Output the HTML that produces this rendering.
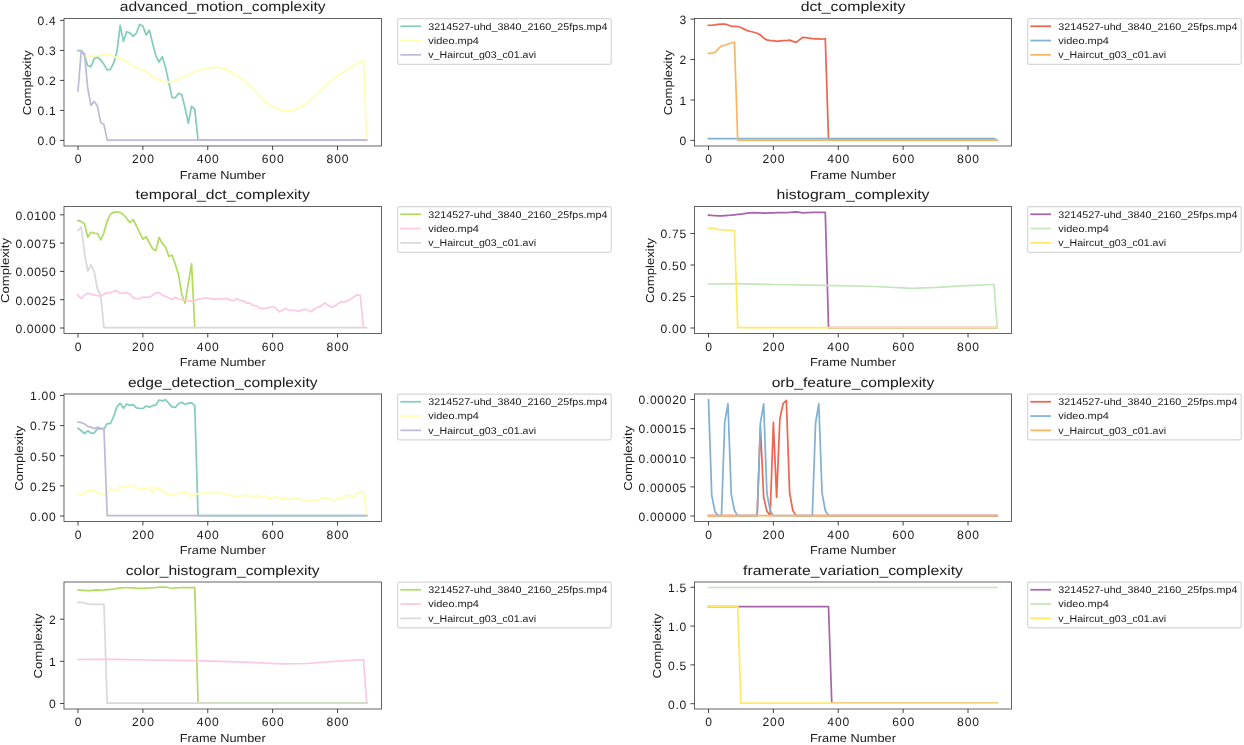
<!DOCTYPE html><html><head><meta charset="utf-8"><style>html,body{margin:0;padding:0;background:#fff;width:1244px;height:745px;overflow:hidden}svg{display:block;will-change:transform}text{font-family:"Liberation Sans",sans-serif;fill:#1a1a1a;text-rendering:geometricPrecision}</style></head><body>
<svg width="1244" height="745" viewBox="0 0 1244 745">
<rect width="1244" height="745" fill="#fff"/>
<g><clipPath id="c0"><rect x="64" y="18.5" width="317.5" height="127.5"/></clipPath><g clip-path="url(#c0)" fill="none" stroke-width="1.73" stroke-linejoin="round" stroke-linecap="square"><polyline stroke="#84cdbc" points="78,50.53 81.24,50.53 84.49,55.41 87.73,65.75 90.98,66.69 94.22,58.7 97.46,57.11 100.71,60.11 103.95,64.34 107.2,69.98 110.44,69.32 113.68,62.93 116.93,51.65 120.17,25.34 123.42,41.32 126.66,31.73 129.9,32.86 133.15,36.43 136.39,33.05 139.64,24.4 142.88,26.09 146.12,34.92 149.37,30.23 152.61,43.2 155.86,55.88 159.1,61.99 162.34,56.82 165.59,67.63 168.83,82.67 172.08,97.67 175.32,97.67 178.56,93.33 181.81,94.82 185.05,107.95 188.3,123.36 191.54,106.23 194.78,109.32 198.03,140.2 366.72,140.2"/><polyline stroke="#ffffb3" points="78,58.42 81.24,57.29 84.49,56.82 87.73,56.64 90.98,56.35 94.22,56.07 97.46,55.6 100.71,55.23 103.95,54.94 107.2,54.76 110.44,54.47 113.68,56.35 116.93,57.76 120.17,58.7 123.42,60.11 126.66,61.99 129.9,63.87 133.15,65.75 136.39,67.63 139.64,69.04 142.88,69.98 146.12,72.33 149.37,74.21 152.61,77.03 155.86,78.91 159.1,79.85 162.34,80.79 165.59,81.73 168.83,82.2 172.08,81.7 178.24,79.4 185.05,76 191.54,73.1 198.03,70.5 204.52,68.6 211.65,67.4 218.47,67.4 223.98,68.6 229.82,71.4 236.63,75.4 239.88,77.6 248.31,83.7 256.74,92.9 265.18,102 273.94,107.4 282.37,110.5 289.18,110.8 296.32,109.4 304.76,104.1 313.19,98.5 320.98,90 330.06,81.6 338.82,75.2 347.25,69.6 355.69,65.1 363.47,60.4 366.72,140.2"/><polyline stroke="#bebada" points="78,90.88 81.24,51.02 84.49,53.73 87.73,88.23 90.98,105.4 94.22,101.39 97.46,106.3 100.71,122.6 103.95,124.41 107.2,140.2 366.72,140.2"/></g><rect x="64" y="18.5" width="317.5" height="127.5" fill="none" stroke="#555" stroke-width="0.92" stroke-linecap="square"/><text x="78" y="163" font-size="12.1" text-anchor="middle" textLength="7.33" lengthAdjust="spacing">0</text><text x="142.88" y="163" font-size="12.1" text-anchor="middle" textLength="21.99" lengthAdjust="spacing">200</text><text x="207.76" y="163" font-size="12.1" text-anchor="middle" textLength="21.99" lengthAdjust="spacing">400</text><text x="272.64" y="163" font-size="12.1" text-anchor="middle" textLength="21.99" lengthAdjust="spacing">600</text><text x="337.52" y="163" font-size="12.1" text-anchor="middle" textLength="21.99" lengthAdjust="spacing">800</text><text x="55.74" y="145.2" font-size="12.1" text-anchor="end" textLength="18.32" lengthAdjust="spacing">0.0</text><text x="55.74" y="115.2" font-size="12.1" text-anchor="end" textLength="18.32" lengthAdjust="spacing">0.1</text><text x="55.74" y="85.2" font-size="12.1" text-anchor="end" textLength="18.32" lengthAdjust="spacing">0.2</text><text x="55.74" y="55.2" font-size="12.1" text-anchor="end" textLength="18.32" lengthAdjust="spacing">0.3</text><text x="55.74" y="25.2" font-size="12.1" text-anchor="end" textLength="18.32" lengthAdjust="spacing">0.4</text><path d="M78 146v4.03M142.88 146v4.03M207.76 146v4.03M272.64 146v4.03M337.52 146v4.03M64 140.4h-4.03M64 110.4h-4.03M64 80.4h-4.03M64 50.4h-4.03M64 20.4h-4.03" stroke="#333" stroke-width="0.92"/><text x="222.75" y="11.2" font-size="13.54" text-anchor="middle" textLength="205.74" lengthAdjust="spacingAndGlyphs">advanced_motion_complexity</text><text x="222.75" y="178.8" font-size="11.52" text-anchor="middle" textLength="85.83" lengthAdjust="spacingAndGlyphs">Frame Number</text><text x="30.67" y="82.75" font-size="11.52" text-anchor="middle" textLength="65.06" lengthAdjust="spacingAndGlyphs" transform="rotate(-90 30.67 82.75)">Complexity</text><rect x="397.62" y="18.6" width="213.6" height="45.7" rx="1.9" fill="#fff" fill-opacity="0.8" stroke="#cccccc" stroke-opacity="0.8" stroke-width="1.15"/><path d="M401.22 26.25h18.9" stroke="#84cdbc" stroke-width="1.73" stroke-linecap="square"/><text x="428.34" y="29.6" font-size="9.79" text-anchor="start" textLength="179.04" lengthAdjust="spacingAndGlyphs">3214527-uhd_3840_2160_25fps.mp4</text><path d="M401.22 40.55h18.9" stroke="#ffffb3" stroke-width="1.73" stroke-linecap="square"/><text x="428.34" y="43.9" font-size="9.79" text-anchor="start" textLength="50.66" lengthAdjust="spacingAndGlyphs">video.mp4</text><path d="M401.22 54.85h18.9" stroke="#bebada" stroke-width="1.73" stroke-linecap="square"/><text x="428.34" y="58.2" font-size="9.79" text-anchor="start" textLength="107.8" lengthAdjust="spacingAndGlyphs">v_Haircut_g03_c01.avi</text></g>
<g><clipPath id="c1"><rect x="694.5" y="18.5" width="317" height="127.5"/></clipPath><g clip-path="url(#c1)" fill="none" stroke-width="1.73" stroke-linejoin="round" stroke-linecap="square"><polyline stroke="#ec6650" points="708.5,25.24 711.74,25.14 714.99,24.82 718.23,24.41 721.48,24.09 724.72,24.2 727.96,24.93 731.21,26.29 734.45,26.29 737.7,26.5 740.94,27.54 744.18,29.11 747.43,30.68 750.67,31.51 753.92,32.24 757.16,33.29 760.4,34.86 763.65,38.2 766.89,39.87 770.14,40.6 773.38,40.71 776.62,41.33 779.87,40.92 783.11,40.6 786.36,40.5 789.6,40.08 792.84,41.33 796.09,42.38 799.33,39.87 802.58,37.47 805.82,37.68 809.06,38.2 812.31,38.62 815.55,38.83 818.8,38.93 822.04,39.24 825.28,38.51 828.53,140.2 997.22,140.2"/><polyline stroke="#80b1d3" points="708.5,138.6 805.82,138.7 903.14,138.7 993.97,138.6 997.22,140.2"/><polyline stroke="#fdb462" points="708.5,53.46 711.74,53.46 714.99,52.41 718.23,48.96 721.48,45.83 724.72,45.31 727.96,44.05 731.21,43.01 734.45,42.17 737.7,140.2 997.22,140.2"/></g><rect x="694.5" y="18.5" width="317" height="127.5" fill="none" stroke="#555" stroke-width="0.92" stroke-linecap="square"/><text x="708.5" y="163" font-size="12.1" text-anchor="middle" textLength="7.33" lengthAdjust="spacing">0</text><text x="773.38" y="163" font-size="12.1" text-anchor="middle" textLength="21.99" lengthAdjust="spacing">200</text><text x="838.26" y="163" font-size="12.1" text-anchor="middle" textLength="21.99" lengthAdjust="spacing">400</text><text x="903.14" y="163" font-size="12.1" text-anchor="middle" textLength="21.99" lengthAdjust="spacing">600</text><text x="968.02" y="163" font-size="12.1" text-anchor="middle" textLength="21.99" lengthAdjust="spacing">800</text><text x="686.24" y="145.2" font-size="12.1" text-anchor="end" textLength="7.33" lengthAdjust="spacing">0</text><text x="686.24" y="104.77" font-size="12.1" text-anchor="end" textLength="7.33" lengthAdjust="spacing">1</text><text x="686.24" y="64.34" font-size="12.1" text-anchor="end" textLength="7.33" lengthAdjust="spacing">2</text><text x="686.24" y="23.91" font-size="12.1" text-anchor="end" textLength="7.33" lengthAdjust="spacing">3</text><path d="M708.5 146v4.03M773.38 146v4.03M838.26 146v4.03M903.14 146v4.03M968.02 146v4.03M694.5 140.4h-4.03M694.5 99.97h-4.03M694.5 59.54h-4.03M694.5 19.11h-4.03" stroke="#333" stroke-width="0.92"/><text x="853" y="11.2" font-size="13.54" text-anchor="middle" textLength="104.7" lengthAdjust="spacingAndGlyphs">dct_complexity</text><text x="853" y="178.8" font-size="11.52" text-anchor="middle" textLength="85.83" lengthAdjust="spacingAndGlyphs">Frame Number</text><text x="672.16" y="82.75" font-size="11.52" text-anchor="middle" textLength="65.06" lengthAdjust="spacingAndGlyphs" transform="rotate(-90 672.16 82.75)">Complexity</text><rect x="1027.62" y="18.6" width="213.6" height="45.7" rx="1.9" fill="#fff" fill-opacity="0.8" stroke="#cccccc" stroke-opacity="0.8" stroke-width="1.15"/><path d="M1031.21 26.25h18.9" stroke="#ec6650" stroke-width="1.73" stroke-linecap="square"/><text x="1058.34" y="29.6" font-size="9.79" text-anchor="start" textLength="179.04" lengthAdjust="spacingAndGlyphs">3214527-uhd_3840_2160_25fps.mp4</text><path d="M1031.21 40.55h18.9" stroke="#80b1d3" stroke-width="1.73" stroke-linecap="square"/><text x="1058.34" y="43.9" font-size="9.79" text-anchor="start" textLength="50.66" lengthAdjust="spacingAndGlyphs">video.mp4</text><path d="M1031.21 54.85h18.9" stroke="#fdb462" stroke-width="1.73" stroke-linecap="square"/><text x="1058.34" y="58.2" font-size="9.79" text-anchor="start" textLength="107.8" lengthAdjust="spacingAndGlyphs">v_Haircut_g03_c01.avi</text></g>
<g><clipPath id="c2"><rect x="64" y="206.5" width="317.5" height="127"/></clipPath><g clip-path="url(#c2)" fill="none" stroke-width="1.73" stroke-linejoin="round" stroke-linecap="square"><polyline stroke="#b0dc60" points="78,220.54 81.24,221.38 84.49,223.68 87.73,237.26 90.98,232.24 94.22,233.08 97.46,233.6 100.71,239.87 103.95,232.56 107.2,221.06 110.44,214.27 113.68,212.18 116.93,212.18 120.17,212.39 123.42,214.79 126.66,218.45 129.9,222.63 133.15,219.5 136.39,225.77 139.64,232.56 142.88,239.14 146.12,236.74 149.37,243.01 152.61,248.76 155.86,250.64 159.1,237.47 162.34,243.53 165.59,247.19 168.83,256.28 172.08,255.23 175.32,264.43 178.56,274.88 181.81,294.5 185.05,303.1 188.3,283.4 191.54,263.7 194.78,327.7"/><polyline stroke="#fcc8e2" points="78,295.18 81.24,298.65 84.49,295.18 87.73,293.12 90.98,294.15 94.22,294.79 97.46,295.69 100.71,296.08 103.95,294.15 107.2,292.6 110.44,292.86 113.68,291.32 116.93,290.93 120.17,293.5 123.42,292.86 126.66,292.48 129.9,294.15 133.15,297.75 136.39,298.65 139.64,298.65 142.88,296.98 146.12,297.36 149.37,297.36 152.61,295.18 155.86,292.86 159.1,292.6 162.34,295.18 165.59,296.46 168.83,298.01 172.08,299.29 175.32,297.36 178.56,299.04 181.81,299.94 185.05,299.68 188.3,300.58 191.54,301.22 194.78,300.58 198.03,299.29 201.27,298.65 204.52,298.01 207.76,298.26 211,298.65 214.25,299.29 217.49,298.65 220.74,299.23 223.98,298.83 227.22,298.3 230.47,300.16 233.71,300.56 236.96,298.83 240.2,300.56 243.44,300.96 246.69,303.21 249.93,303.21 253.18,305.47 256.42,305.86 259.66,308.12 262.91,308.52 266.15,308.12 269.4,307.85 272.64,306.53 275.88,308.12 279.13,311.83 282.37,310.24 285.62,308.52 288.86,310.24 292.1,310.24 295.35,310.51 298.59,311.17 301.84,309.84 305.08,309.18 308.32,310.51 311.57,311.57 314.81,308.52 318.06,307.19 321.3,305.86 324.54,302.81 327.79,304.94 331.03,307.19 334.28,306.53 337.52,303.87 340.76,301.89 344.01,301.89 347.25,301.22 350.5,299.23 353.74,296.98 356.98,294.86 360.23,295.25 363.47,327.7"/><polyline stroke="#d9d9d9" points="78,230.6 81.24,227 84.49,253 87.73,271 90.98,265 94.22,272 97.46,289 100.71,295.5 103.95,327.7 366.72,327.7"/></g><rect x="64" y="206.5" width="317.5" height="127" fill="none" stroke="#555" stroke-width="0.92" stroke-linecap="square"/><text x="78" y="350.5" font-size="12.1" text-anchor="middle" textLength="7.33" lengthAdjust="spacing">0</text><text x="142.88" y="350.5" font-size="12.1" text-anchor="middle" textLength="21.99" lengthAdjust="spacing">200</text><text x="207.76" y="350.5" font-size="12.1" text-anchor="middle" textLength="21.99" lengthAdjust="spacing">400</text><text x="272.64" y="350.5" font-size="12.1" text-anchor="middle" textLength="21.99" lengthAdjust="spacing">600</text><text x="337.52" y="350.5" font-size="12.1" text-anchor="middle" textLength="21.99" lengthAdjust="spacing">800</text><text x="55.74" y="332.8" font-size="12.1" text-anchor="end" textLength="40.31" lengthAdjust="spacing">0.0000</text><text x="55.74" y="304.5" font-size="12.1" text-anchor="end" textLength="40.31" lengthAdjust="spacing">0.0025</text><text x="55.74" y="276.2" font-size="12.1" text-anchor="end" textLength="40.31" lengthAdjust="spacing">0.0050</text><text x="55.74" y="247.9" font-size="12.1" text-anchor="end" textLength="40.31" lengthAdjust="spacing">0.0075</text><text x="55.74" y="219.6" font-size="12.1" text-anchor="end" textLength="40.31" lengthAdjust="spacing">0.0100</text><path d="M78 333.5v4.03M142.88 333.5v4.03M207.76 333.5v4.03M272.64 333.5v4.03M337.52 333.5v4.03M64 328h-4.03M64 299.7h-4.03M64 271.4h-4.03M64 243.1h-4.03M64 214.8h-4.03" stroke="#333" stroke-width="0.92"/><text x="222.75" y="199.2" font-size="13.54" text-anchor="middle" textLength="174.22" lengthAdjust="spacingAndGlyphs">temporal_dct_complexity</text><text x="222.75" y="366.3" font-size="11.52" text-anchor="middle" textLength="85.83" lengthAdjust="spacingAndGlyphs">Frame Number</text><text x="8.68" y="270.5" font-size="11.52" text-anchor="middle" textLength="65.06" lengthAdjust="spacingAndGlyphs" transform="rotate(-90 8.68 270.5)">Complexity</text><rect x="397.62" y="206.6" width="213.6" height="45.7" rx="1.9" fill="#fff" fill-opacity="0.8" stroke="#cccccc" stroke-opacity="0.8" stroke-width="1.15"/><path d="M401.22 214.25h18.9" stroke="#b0dc60" stroke-width="1.73" stroke-linecap="square"/><text x="428.34" y="217.6" font-size="9.79" text-anchor="start" textLength="179.04" lengthAdjust="spacingAndGlyphs">3214527-uhd_3840_2160_25fps.mp4</text><path d="M401.22 228.55h18.9" stroke="#fcc8e2" stroke-width="1.73" stroke-linecap="square"/><text x="428.34" y="231.9" font-size="9.79" text-anchor="start" textLength="50.66" lengthAdjust="spacingAndGlyphs">video.mp4</text><path d="M401.22 242.85h18.9" stroke="#d9d9d9" stroke-width="1.73" stroke-linecap="square"/><text x="428.34" y="246.2" font-size="9.79" text-anchor="start" textLength="107.8" lengthAdjust="spacingAndGlyphs">v_Haircut_g03_c01.avi</text></g>
<g><clipPath id="c3"><rect x="694.5" y="206.5" width="317" height="127"/></clipPath><g clip-path="url(#c3)" fill="none" stroke-width="1.73" stroke-linejoin="round" stroke-linecap="square"><polyline stroke="#a864ab" points="708.5,215.13 711.74,215.47 714.99,215.69 718.23,215.92 721.48,215.8 724.72,215.58 727.96,215.35 731.21,215.13 734.45,214.79 737.7,214.45 740.94,214.23 744.18,213.67 747.43,213.1 750.67,212.77 753.92,212.65 757.16,212.77 760.4,212.88 763.65,213.1 766.89,213.1 770.14,212.88 773.38,212.77 776.62,212.65 779.87,212.54 783.11,212.54 786.36,212.65 789.6,212.43 792.84,212.09 796.09,211.98 799.33,212.43 802.58,212.88 805.82,212.65 809.06,212.54 812.31,212.43 815.55,212.43 818.8,212.32 822.04,212.32 825.28,212.32 828.53,327.7 997.22,327.7"/><polyline stroke="#c3e6ba" points="708.5,284 737.05,283.7 774.68,284.5 824.64,285.3 874.27,286.5 912.87,288.3 936.88,287.4 961.53,285.8 992.67,284.5 993.97,284.5 997.22,327.7"/><polyline stroke="#ffe968" points="708.5,228.3 711.74,228.3 714.99,228.41 718.23,229.53 721.48,229.76 724.72,229.98 727.96,230.32 731.21,230.43 734.45,230.66 737.7,327.7 997.22,327.7"/></g><rect x="694.5" y="206.5" width="317" height="127" fill="none" stroke="#555" stroke-width="0.92" stroke-linecap="square"/><text x="708.5" y="350.5" font-size="12.1" text-anchor="middle" textLength="7.33" lengthAdjust="spacing">0</text><text x="773.38" y="350.5" font-size="12.1" text-anchor="middle" textLength="21.99" lengthAdjust="spacing">200</text><text x="838.26" y="350.5" font-size="12.1" text-anchor="middle" textLength="21.99" lengthAdjust="spacing">400</text><text x="903.14" y="350.5" font-size="12.1" text-anchor="middle" textLength="21.99" lengthAdjust="spacing">600</text><text x="968.02" y="350.5" font-size="12.1" text-anchor="middle" textLength="21.99" lengthAdjust="spacing">800</text><text x="686.24" y="332.8" font-size="12.1" text-anchor="end" textLength="25.65" lengthAdjust="spacing">0.00</text><text x="686.24" y="301.3" font-size="12.1" text-anchor="end" textLength="25.65" lengthAdjust="spacing">0.25</text><text x="686.24" y="269.8" font-size="12.1" text-anchor="end" textLength="25.65" lengthAdjust="spacing">0.50</text><text x="686.24" y="238.3" font-size="12.1" text-anchor="end" textLength="25.65" lengthAdjust="spacing">0.75</text><path d="M708.5 333.5v4.03M773.38 333.5v4.03M838.26 333.5v4.03M903.14 333.5v4.03M968.02 333.5v4.03M694.5 328h-4.03M694.5 296.5h-4.03M694.5 265h-4.03M694.5 233.5h-4.03" stroke="#333" stroke-width="0.92"/><text x="853" y="199.2" font-size="13.54" text-anchor="middle" textLength="152.97" lengthAdjust="spacingAndGlyphs">histogram_complexity</text><text x="853" y="366.3" font-size="11.52" text-anchor="middle" textLength="85.83" lengthAdjust="spacingAndGlyphs">Frame Number</text><text x="653.84" y="270.5" font-size="11.52" text-anchor="middle" textLength="65.06" lengthAdjust="spacingAndGlyphs" transform="rotate(-90 653.84 270.5)">Complexity</text><rect x="1027.62" y="206.6" width="213.6" height="45.7" rx="1.9" fill="#fff" fill-opacity="0.8" stroke="#cccccc" stroke-opacity="0.8" stroke-width="1.15"/><path d="M1031.21 214.25h18.9" stroke="#a864ab" stroke-width="1.73" stroke-linecap="square"/><text x="1058.34" y="217.6" font-size="9.79" text-anchor="start" textLength="179.04" lengthAdjust="spacingAndGlyphs">3214527-uhd_3840_2160_25fps.mp4</text><path d="M1031.21 228.55h18.9" stroke="#c3e6ba" stroke-width="1.73" stroke-linecap="square"/><text x="1058.34" y="231.9" font-size="9.79" text-anchor="start" textLength="50.66" lengthAdjust="spacingAndGlyphs">video.mp4</text><path d="M1031.21 242.85h18.9" stroke="#ffe968" stroke-width="1.73" stroke-linecap="square"/><text x="1058.34" y="246.2" font-size="9.79" text-anchor="start" textLength="107.8" lengthAdjust="spacingAndGlyphs">v_Haircut_g03_c01.avi</text></g>
<g><clipPath id="c4"><rect x="64" y="394" width="317.5" height="127.5"/></clipPath><g clip-path="url(#c4)" fill="none" stroke-width="1.73" stroke-linejoin="round" stroke-linecap="square"><polyline stroke="#84cdbc" points="78,428.2 81.24,430.79 84.49,433.49 87.73,430.79 90.98,433.04 94.22,433.04 97.46,428.76 100.71,428.76 103.95,428.99 107.2,423.7 110.44,423.7 113.68,416.38 116.93,406.82 120.17,403.1 123.42,408.28 126.66,404 129.9,405.35 133.15,404.57 136.39,407.94 139.64,408.28 142.88,408.5 146.12,406.03 149.37,407.15 152.61,405.69 155.86,404.9 159.1,400.06 162.34,400.85 165.59,399.73 168.83,403.44 172.08,406.82 175.32,407.38 178.56,403.78 181.81,402.32 185.05,404.57 188.3,403.1 191.54,402.88 194.78,405.69 198.03,515.6 366.72,515.6"/><polyline stroke="#ffffb3" points="78,493.65 81.24,495.58 84.49,493.01 87.73,490.43 90.98,490.43 94.22,491.08 97.46,492.36 100.71,493.65 103.95,494.94 107.2,492.36 110.44,488.5 113.68,490.18 116.93,490.69 120.17,486.32 123.42,487.6 126.66,486.83 129.9,485.29 133.15,485.55 136.39,487.22 139.64,490.18 142.88,488.5 146.12,489.15 149.37,486.83 152.61,493.01 155.86,487.22 159.1,488.5 162.34,490.43 165.59,494.04 168.83,494.94 172.08,494.04 175.32,493.65 178.56,493.65 181.81,492.75 185.05,491.98 188.3,492.75 191.54,496.61 194.78,494.04 198.03,494.04 201.27,493.65 204.52,492.36 207.76,494.04 211,492.36 214.25,491.46 217.49,492.36 220.74,493.3 223.98,493.57 227.22,494.9 230.47,495.16 233.71,495.96 236.96,496.89 240.2,495.56 243.44,496.22 246.69,494.9 249.93,495.96 253.18,497.28 256.42,495.16 259.66,497.81 262.91,496.49 266.15,495.56 269.4,498.87 272.64,497.81 275.88,496.89 279.13,497.81 282.37,498.21 285.62,497.81 288.86,499.54 292.1,498.61 295.35,498.61 298.59,498.61 301.84,500.2 305.08,500.86 308.32,500.86 311.57,500.47 314.81,500.2 318.06,499.94 321.3,498.21 324.54,497.81 327.79,497.28 331.03,499.54 334.28,500.2 337.52,498.61 340.76,497.81 344.01,496.89 347.25,495.16 350.5,495.56 353.74,496.89 356.98,493.57 360.23,491.98 363.47,491.58 366.72,515.6"/><polyline stroke="#bebada" points="78,422.01 81.24,422.57 84.49,424.04 87.73,426.29 90.98,427.07 94.22,428.76 97.46,427.07 100.71,428.2 103.95,428.54 107.2,515.6 366.72,515.6"/></g><rect x="64" y="394" width="317.5" height="127.5" fill="none" stroke="#555" stroke-width="0.92" stroke-linecap="square"/><text x="78" y="538.5" font-size="12.1" text-anchor="middle" textLength="7.33" lengthAdjust="spacing">0</text><text x="142.88" y="538.5" font-size="12.1" text-anchor="middle" textLength="21.99" lengthAdjust="spacing">200</text><text x="207.76" y="538.5" font-size="12.1" text-anchor="middle" textLength="21.99" lengthAdjust="spacing">400</text><text x="272.64" y="538.5" font-size="12.1" text-anchor="middle" textLength="21.99" lengthAdjust="spacing">600</text><text x="337.52" y="538.5" font-size="12.1" text-anchor="middle" textLength="21.99" lengthAdjust="spacing">800</text><text x="55.74" y="520.8" font-size="12.1" text-anchor="end" textLength="25.65" lengthAdjust="spacing">0.00</text><text x="55.74" y="490.68" font-size="12.1" text-anchor="end" textLength="25.65" lengthAdjust="spacing">0.25</text><text x="55.74" y="460.55" font-size="12.1" text-anchor="end" textLength="25.65" lengthAdjust="spacing">0.50</text><text x="55.74" y="430.43" font-size="12.1" text-anchor="end" textLength="25.65" lengthAdjust="spacing">0.75</text><text x="55.74" y="400.3" font-size="12.1" text-anchor="end" textLength="25.65" lengthAdjust="spacing">1.00</text><path d="M78 521.5v4.03M142.88 521.5v4.03M207.76 521.5v4.03M272.64 521.5v4.03M337.52 521.5v4.03M64 516h-4.03M64 485.88h-4.03M64 455.75h-4.03M64 425.62h-4.03M64 395.5h-4.03" stroke="#333" stroke-width="0.92"/><text x="222.75" y="386.7" font-size="13.54" text-anchor="middle" textLength="189.64" lengthAdjust="spacingAndGlyphs">edge_detection_complexity</text><text x="222.75" y="554.3" font-size="11.52" text-anchor="middle" textLength="85.83" lengthAdjust="spacingAndGlyphs">Frame Number</text><text x="23.34" y="458.25" font-size="11.52" text-anchor="middle" textLength="65.06" lengthAdjust="spacingAndGlyphs" transform="rotate(-90 23.34 458.25)">Complexity</text><rect x="397.62" y="394.1" width="213.6" height="45.7" rx="1.9" fill="#fff" fill-opacity="0.8" stroke="#cccccc" stroke-opacity="0.8" stroke-width="1.15"/><path d="M401.22 401.75h18.9" stroke="#84cdbc" stroke-width="1.73" stroke-linecap="square"/><text x="428.34" y="405.1" font-size="9.79" text-anchor="start" textLength="179.04" lengthAdjust="spacingAndGlyphs">3214527-uhd_3840_2160_25fps.mp4</text><path d="M401.22 416.05h18.9" stroke="#ffffb3" stroke-width="1.73" stroke-linecap="square"/><text x="428.34" y="419.4" font-size="9.79" text-anchor="start" textLength="50.66" lengthAdjust="spacingAndGlyphs">video.mp4</text><path d="M401.22 430.35h18.9" stroke="#bebada" stroke-width="1.73" stroke-linecap="square"/><text x="428.34" y="433.7" font-size="9.79" text-anchor="start" textLength="107.8" lengthAdjust="spacingAndGlyphs">v_Haircut_g03_c01.avi</text></g>
<g><clipPath id="c5"><rect x="694.5" y="394" width="317" height="127.5"/></clipPath><g clip-path="url(#c5)" fill="none" stroke-width="1.73" stroke-linejoin="round" stroke-linecap="square"><polyline stroke="#ec6650" points="708.5,515.6 757.16,515.6 760.4,426.66 763.65,497.36 766.89,511.32 770.14,515.6 773.38,422.29 776.62,497.36 779.87,418.8 783.11,403.62 786.36,400.47 789.6,492.99 792.84,510.45 796.09,515.6 997.22,515.6"/><polyline stroke="#80b1d3" points="708.5,399.6 711.74,495.61 714.99,511.85 718.23,515.6 721.48,515.6 724.72,422.29 727.96,403.97 731.21,493.87 734.45,510.45 737.7,515.6 757.16,515.6 760.4,423.17 763.65,403.97 766.89,492.99 770.14,510.45 773.38,515.6 812.31,515.6 815.55,423.17 818.8,403.97 822.04,492.99 825.28,510.45 828.53,515.6 993.97,515.6 997.22,515.6"/><polyline stroke="#fdb462" points="708.5,515.6 997.22,515.6"/></g><rect x="694.5" y="394" width="317" height="127.5" fill="none" stroke="#555" stroke-width="0.92" stroke-linecap="square"/><text x="708.5" y="538.5" font-size="12.1" text-anchor="middle" textLength="7.33" lengthAdjust="spacing">0</text><text x="773.38" y="538.5" font-size="12.1" text-anchor="middle" textLength="21.99" lengthAdjust="spacing">200</text><text x="838.26" y="538.5" font-size="12.1" text-anchor="middle" textLength="21.99" lengthAdjust="spacing">400</text><text x="903.14" y="538.5" font-size="12.1" text-anchor="middle" textLength="21.99" lengthAdjust="spacing">600</text><text x="968.02" y="538.5" font-size="12.1" text-anchor="middle" textLength="21.99" lengthAdjust="spacing">800</text><text x="686.24" y="520.8" font-size="12.1" text-anchor="end" textLength="47.64" lengthAdjust="spacing">0.00000</text><text x="686.24" y="491.68" font-size="12.1" text-anchor="end" textLength="47.64" lengthAdjust="spacing">0.00005</text><text x="686.24" y="462.55" font-size="12.1" text-anchor="end" textLength="47.64" lengthAdjust="spacing">0.00010</text><text x="686.24" y="433.43" font-size="12.1" text-anchor="end" textLength="47.64" lengthAdjust="spacing">0.00015</text><text x="686.24" y="404.3" font-size="12.1" text-anchor="end" textLength="47.64" lengthAdjust="spacing">0.00020</text><path d="M708.5 521.5v4.03M773.38 521.5v4.03M838.26 521.5v4.03M903.14 521.5v4.03M968.02 521.5v4.03M694.5 516h-4.03M694.5 486.88h-4.03M694.5 457.75h-4.03M694.5 428.62h-4.03M694.5 399.5h-4.03" stroke="#333" stroke-width="0.92"/><text x="853" y="386.7" font-size="13.54" text-anchor="middle" textLength="162.63" lengthAdjust="spacingAndGlyphs">orb_feature_complexity</text><text x="853" y="554.3" font-size="11.52" text-anchor="middle" textLength="85.83" lengthAdjust="spacingAndGlyphs">Frame Number</text><text x="631.85" y="458.25" font-size="11.52" text-anchor="middle" textLength="65.06" lengthAdjust="spacingAndGlyphs" transform="rotate(-90 631.85 458.25)">Complexity</text><rect x="1027.62" y="394.1" width="213.6" height="45.7" rx="1.9" fill="#fff" fill-opacity="0.8" stroke="#cccccc" stroke-opacity="0.8" stroke-width="1.15"/><path d="M1031.21 401.75h18.9" stroke="#ec6650" stroke-width="1.73" stroke-linecap="square"/><text x="1058.34" y="405.1" font-size="9.79" text-anchor="start" textLength="179.04" lengthAdjust="spacingAndGlyphs">3214527-uhd_3840_2160_25fps.mp4</text><path d="M1031.21 416.05h18.9" stroke="#80b1d3" stroke-width="1.73" stroke-linecap="square"/><text x="1058.34" y="419.4" font-size="9.79" text-anchor="start" textLength="50.66" lengthAdjust="spacingAndGlyphs">video.mp4</text><path d="M1031.21 430.35h18.9" stroke="#fdb462" stroke-width="1.73" stroke-linecap="square"/><text x="1058.34" y="433.7" font-size="9.79" text-anchor="start" textLength="107.8" lengthAdjust="spacingAndGlyphs">v_Haircut_g03_c01.avi</text></g>
<g><clipPath id="c6"><rect x="64" y="582" width="317.5" height="127"/></clipPath><g clip-path="url(#c6)" fill="none" stroke-width="1.73" stroke-linejoin="round" stroke-linecap="square"><polyline stroke="#b0dc60" points="78,589.84 81.24,590.15 84.49,590.36 87.73,590.67 90.98,590.57 94.22,590.15 97.46,589.84 100.71,590.36 103.95,590.05 107.2,589.52 110.44,589.32 113.68,589.11 116.93,588.48 120.17,588.06 123.42,587.75 126.66,587.64 129.9,587.75 133.15,587.96 136.39,588.27 139.64,588.48 142.88,588.27 146.12,588.06 149.37,587.96 152.61,587.75 155.86,587.54 159.1,587.23 162.34,587.23 165.59,587.02 168.83,587.75 172.08,588.27 175.32,587.96 178.56,587.75 181.81,587.54 185.05,587.54 188.3,587.64 191.54,587.64 194.78,587.64 198.03,703.2 366.72,703.2"/><polyline stroke="#fcc8e2" points="78,659.5 107.2,659.2 144.5,660 194.46,660.7 244.42,662.2 282.37,663.8 306.7,663.5 331.68,661.5 363.47,659.7 366.72,703.2"/><polyline stroke="#d9d9d9" points="78,602.38 81.24,602.38 84.49,602.9 87.73,603.95 90.98,604.26 94.22,604.26 97.46,604.36 100.71,604.47 103.95,604.47 107.2,703.2 366.72,703.2"/></g><rect x="64" y="582" width="317.5" height="127" fill="none" stroke="#555" stroke-width="0.92" stroke-linecap="square"/><text x="78" y="726" font-size="12.1" text-anchor="middle" textLength="7.33" lengthAdjust="spacing">0</text><text x="142.88" y="726" font-size="12.1" text-anchor="middle" textLength="21.99" lengthAdjust="spacing">200</text><text x="207.76" y="726" font-size="12.1" text-anchor="middle" textLength="21.99" lengthAdjust="spacing">400</text><text x="272.64" y="726" font-size="12.1" text-anchor="middle" textLength="21.99" lengthAdjust="spacing">600</text><text x="337.52" y="726" font-size="12.1" text-anchor="middle" textLength="21.99" lengthAdjust="spacing">800</text><text x="55.74" y="708.3" font-size="12.1" text-anchor="end" textLength="7.33" lengthAdjust="spacing">0</text><text x="55.74" y="666.15" font-size="12.1" text-anchor="end" textLength="7.33" lengthAdjust="spacing">1</text><text x="55.74" y="624" font-size="12.1" text-anchor="end" textLength="7.33" lengthAdjust="spacing">2</text><path d="M78 709v4.03M142.88 709v4.03M207.76 709v4.03M272.64 709v4.03M337.52 709v4.03M64 703.5h-4.03M64 661.35h-4.03M64 619.2h-4.03" stroke="#333" stroke-width="0.92"/><text x="222.75" y="574.7" font-size="13.54" text-anchor="middle" textLength="193.91" lengthAdjust="spacingAndGlyphs">color_histogram_complexity</text><text x="222.75" y="741.8" font-size="11.52" text-anchor="middle" textLength="85.83" lengthAdjust="spacingAndGlyphs">Frame Number</text><text x="41.66" y="646" font-size="11.52" text-anchor="middle" textLength="65.06" lengthAdjust="spacingAndGlyphs" transform="rotate(-90 41.66 646)">Complexity</text><rect x="397.62" y="582.1" width="213.6" height="45.7" rx="1.9" fill="#fff" fill-opacity="0.8" stroke="#cccccc" stroke-opacity="0.8" stroke-width="1.15"/><path d="M401.22 589.75h18.9" stroke="#b0dc60" stroke-width="1.73" stroke-linecap="square"/><text x="428.34" y="593.1" font-size="9.79" text-anchor="start" textLength="179.04" lengthAdjust="spacingAndGlyphs">3214527-uhd_3840_2160_25fps.mp4</text><path d="M401.22 604.05h18.9" stroke="#fcc8e2" stroke-width="1.73" stroke-linecap="square"/><text x="428.34" y="607.4" font-size="9.79" text-anchor="start" textLength="50.66" lengthAdjust="spacingAndGlyphs">video.mp4</text><path d="M401.22 618.35h18.9" stroke="#d9d9d9" stroke-width="1.73" stroke-linecap="square"/><text x="428.34" y="621.7" font-size="9.79" text-anchor="start" textLength="107.8" lengthAdjust="spacingAndGlyphs">v_Haircut_g03_c01.avi</text></g>
<g><clipPath id="c7"><rect x="694.5" y="582" width="317" height="127"/></clipPath><g clip-path="url(#c7)" fill="none" stroke-width="1.73" stroke-linejoin="round" stroke-linecap="square"><polyline stroke="#a864ab" points="708.5,606.6 828.53,606.6 831.77,703.2 997.22,703.2"/><polyline stroke="#c3e6ba" points="708.5,587.5 997.22,587.5"/><polyline stroke="#ffe968" points="708.5,606.6 737.7,606.6 740.94,703.2 997.22,703.2"/></g><rect x="694.5" y="582" width="317" height="127" fill="none" stroke="#555" stroke-width="0.92" stroke-linecap="square"/><text x="708.5" y="726" font-size="12.1" text-anchor="middle" textLength="7.33" lengthAdjust="spacing">0</text><text x="773.38" y="726" font-size="12.1" text-anchor="middle" textLength="21.99" lengthAdjust="spacing">200</text><text x="838.26" y="726" font-size="12.1" text-anchor="middle" textLength="21.99" lengthAdjust="spacing">400</text><text x="903.14" y="726" font-size="12.1" text-anchor="middle" textLength="21.99" lengthAdjust="spacing">600</text><text x="968.02" y="726" font-size="12.1" text-anchor="middle" textLength="21.99" lengthAdjust="spacing">800</text><text x="686.24" y="708.5" font-size="12.1" text-anchor="end" textLength="18.32" lengthAdjust="spacing">0.0</text><text x="686.24" y="669.7" font-size="12.1" text-anchor="end" textLength="18.32" lengthAdjust="spacing">0.5</text><text x="686.24" y="630.9" font-size="12.1" text-anchor="end" textLength="18.32" lengthAdjust="spacing">1.0</text><text x="686.24" y="592.1" font-size="12.1" text-anchor="end" textLength="18.32" lengthAdjust="spacing">1.5</text><path d="M708.5 709v4.03M773.38 709v4.03M838.26 709v4.03M903.14 709v4.03M968.02 709v4.03M694.5 703.7h-4.03M694.5 664.9h-4.03M694.5 626.1h-4.03M694.5 587.3h-4.03" stroke="#333" stroke-width="0.92"/><text x="853" y="574.7" font-size="13.54" text-anchor="middle" textLength="219.99" lengthAdjust="spacingAndGlyphs">framerate_variation_complexity</text><text x="853" y="741.8" font-size="11.52" text-anchor="middle" textLength="85.83" lengthAdjust="spacingAndGlyphs">Frame Number</text><text x="661.17" y="646" font-size="11.52" text-anchor="middle" textLength="65.06" lengthAdjust="spacingAndGlyphs" transform="rotate(-90 661.17 646)">Complexity</text><rect x="1027.62" y="582.1" width="213.6" height="45.7" rx="1.9" fill="#fff" fill-opacity="0.8" stroke="#cccccc" stroke-opacity="0.8" stroke-width="1.15"/><path d="M1031.21 589.75h18.9" stroke="#a864ab" stroke-width="1.73" stroke-linecap="square"/><text x="1058.34" y="593.1" font-size="9.79" text-anchor="start" textLength="179.04" lengthAdjust="spacingAndGlyphs">3214527-uhd_3840_2160_25fps.mp4</text><path d="M1031.21 604.05h18.9" stroke="#c3e6ba" stroke-width="1.73" stroke-linecap="square"/><text x="1058.34" y="607.4" font-size="9.79" text-anchor="start" textLength="50.66" lengthAdjust="spacingAndGlyphs">video.mp4</text><path d="M1031.21 618.35h18.9" stroke="#ffe968" stroke-width="1.73" stroke-linecap="square"/><text x="1058.34" y="621.7" font-size="9.79" text-anchor="start" textLength="107.8" lengthAdjust="spacingAndGlyphs">v_Haircut_g03_c01.avi</text></g>
</svg></body></html>
